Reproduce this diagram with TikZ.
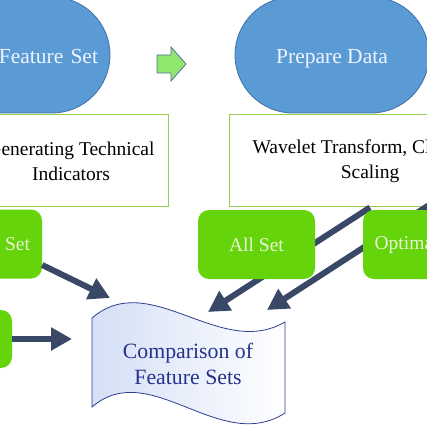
\documentclass[tikz,border=0pt]{standalone}
\usepackage{fontspec}
\setmainfont{Liberation Serif}
\usetikzlibrary{arrows.meta}
\definecolor{bluefill}{RGB}{91,155,213}
\definecolor{blueedge}{RGB}{65,113,170}
\definecolor{greenfill}{RGB}{102,212,10}
\definecolor{greenedge}{RGB}{146,208,80}
\definecolor{gtext}{RGB}{232,246,214}
\definecolor{btext}{RGB}{238,244,255}
\definecolor{darrow}{RGB}{58,72,104}
\definecolor{blkfill}{RGB}{146,232,110}
\definecolor{blkedge}{RGB}{80,110,150}
\definecolor{cmpedge}{RGB}{46,63,143}
\definecolor{cmptext}{RGB}{36,52,140}
\definecolor{cmpfill}{RGB}{212,223,246}
\tikzset{
  blueshape/.style={draw=blueedge, line width=0.8pt, fill=bluefill, rounded corners=58pt,
    minimum width=194pt, minimum height=116pt, text=btext,
    font=\fontsize{21.5}{25}\selectfont},
  whitebox/.style={draw=greenedge, line width=1pt, fill=white, minimum width=194pt,
    minimum height=92pt, align=center, font=\fontsize{19.5}{25}\selectfont},
  greenbox/.style={fill=greenfill, rounded corners=11pt, minimum width=117pt,
    minimum height=69pt, text=gtext, font=\fontsize{19.5}{23}\selectfont},
  darkarrow/.style={draw=darrow, line width=6pt, -{Triangle[length=21pt,width=22pt]}},
}
\begin{document}
\begin{tikzpicture}[x=1pt,y=-1pt]
\useasboundingbox (0,0) rectangle (427,427);
\clip (0,0) rectangle (427,427);
\fill[white] (0,0) rectangle (427,427);
% blue rounded shapes
\node[blueshape, text width=170pt, align=right, inner xsep=12pt] (fs) at (13,55) {\raisebox{-9pt}[0pt][0pt]{Feature Set}};
\node[blueshape] (pd) at (332,55) {\raisebox{-9pt}[0pt][0pt]{Prepare Data}};
% green block arrow
\draw[draw=blkedge, line width=0.8pt, fill=blkfill]
  (157,55) -- (171,55) -- (171,47) -- (186,64) -- (171,81) -- (171,73) -- (157,73) -- cycle;
% white boxes
\node[whitebox] (gt) at (71,161) {Generating Technical\\Indicators};
\node[whitebox, minimum width=282pt] (wt) at (370,161) {Wavelet Transform, Cleaning,\\Scaling};
% arrows passing behind green boxes
\coordinate (t3) at (208,312);
\coordinate (t4) at (267,310);
\coordinate (s4) at (440,198);
\draw[darkarrow] (wt.south) -- (t3);
\draw[darkarrow] (s4) -- (t4);
% green boxes
\node[greenbox, text width=93pt, align=right, inner xsep=12pt] (lset) at (-16.5,244) {Set};
\node[greenbox] (all) at (256.5,244.5) {All Set};
\node[greenbox] (opt) at (421.5,244.5) {Optimal Set};
\node[greenbox, minimum height=58pt] (lsm) at (-46.5,339) {};
% comparison document shape
\shade[left color=cmpfill, right color=white, draw=cmpedge, line width=0.8pt]
  (92,318) .. controls (150,268) and (220,360) .. (285,322)
  -- (285,413) .. controls (220,455) and (150,357) .. (92,407) -- cycle;
\node[text=cmptext, align=center, font=\fontsize{21.8}{26}\selectfont] (cmp) at (188,364)
  {Comparison of\\Feature Sets};
% arrows from the left
\coordinate (t1) at (110,298);
\coordinate (t2) at (72,339);
\draw[darkarrow] ([yshift=-21pt]lset.east) -- (t1);
\draw[darkarrow] (lsm.east) -- (t2);
\end{tikzpicture}
\end{document}
